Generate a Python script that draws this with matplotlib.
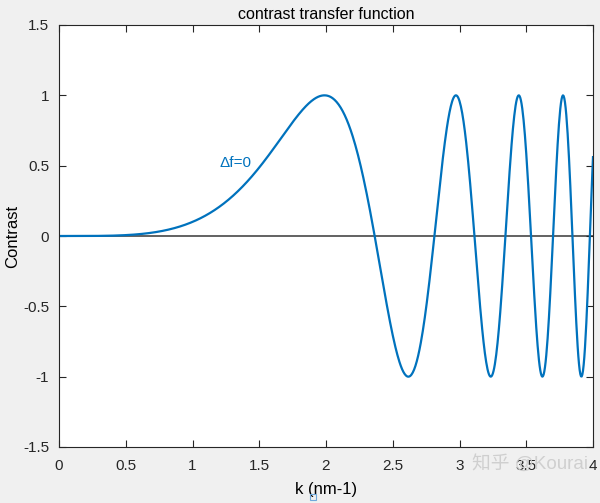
import numpy as np
import matplotlib
matplotlib.use("Agg")
import matplotlib.pyplot as plt

plt.rcParams['font.family'] = ['Liberation Sans', 'Noto Sans CJK SC', 'DejaVu Sans']

# Data: CTF with defocus 0 -> contrast = sin(C * k^4)
k_min, k_max = 0.0, 4.0
phase_coeff = 0.1005          # fitted from peak positions in the picture
n_samples = 801
x_ticks = [0, 0.5, 1, 1.5, 2, 2.5, 3, 3.5, 4]
x_tick_labels = ['0', '0.5', '1', '1.5', '2', '2.5', '3', '3.5', '4']
y_ticks = [-1.5, -1, -0.5, 0, 0.5, 1, 1.5]
y_tick_labels = ['-1.5', '-1', '-0.5', '0', '0.5', '1', '1.5']
label_text = 'Δf=0'
label_pos = (1.2, 0.52)

k = np.linspace(k_min, k_max, n_samples)
contrast = np.sin(phase_coeff * k ** 4)

fig = plt.figure(figsize=(6.0, 5.03), dpi=100, facecolor='#f0f0f0')
ax = fig.add_axes([59/600, (503-447)/503, 534/600, 422/503])
ax.set_facecolor('white')

ax.axhline(0, color='#555555', lw=1.3, zorder=1)
ax.plot(k, contrast, color='#0072BD', lw=1.6, zorder=2)
ax.text(label_pos[0], label_pos[1], label_text, color='#0072BD', fontsize=11,
        ha='left', va='center')

ax.set_xlim(0, 4)
ax.set_ylim(-1.5, 1.5)
ax.set_xticks(x_ticks)
ax.set_xticklabels(x_tick_labels)
ax.set_yticks(y_ticks)
ax.set_yticklabels(y_tick_labels)
ax.tick_params(direction='in', top=True, right=True, length=5, width=0.8,
               colors='#262626', labelsize=11, pad=7)
ax.tick_params(axis='x', pad=9)
for s in ax.spines.values():
    s.set_color('#262626')
    s.set_linewidth(0.8)

ax.set_title('contrast transfer function', fontsize=11.5, color='black', pad=4)
ax.set_xlabel('k (nm-1)', fontsize=12, color='black', labelpad=6)
ax.set_ylabel('Contrast', fontsize=12, color='black', labelpad=2)

fig.text(0.883, 0.077, '知乎 @Kourai', color='#cccccc', fontsize=13.5,
         ha='center', va='center', alpha=0.9)
fig.patches.append(plt.Rectangle((310/600, 1-500/503), 6/600, 6/503,
                                 transform=fig.transFigure, fill=False,
                                 edgecolor='#6fa8dc', lw=0.8))

fig.savefig('out.png', dpi=100, facecolor=fig.get_facecolor())
